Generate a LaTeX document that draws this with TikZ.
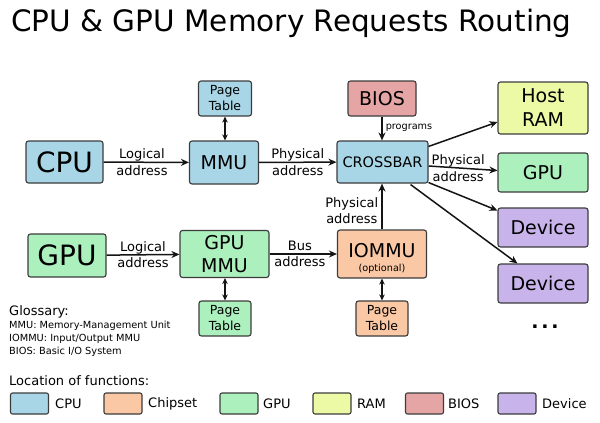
\documentclass[tikz,border=0pt]{standalone}
\usepackage{fontspec}
\setmainfont{DejaVu Sans}
\usetikzlibrary{arrows.meta,calc}
\definecolor{cpuc}{RGB}{168,214,230}
\definecolor{chipc}{RGB}{250,200,165}
\definecolor{gpuc}{RGB}{172,240,190}
\definecolor{ramc}{RGB}{236,250,165}
\definecolor{biosc}{RGB}{230,165,165}
\definecolor{devc}{RGB}{200,180,235}
\definecolor{bordc}{RGB}{60,60,60}
\definecolor{arrc}{RGB}{20,20,20}
\begin{document}
\begin{tikzpicture}[x=1pt,y=-1pt,
  box/.style={draw=bordc, line width=1.1pt, rounded corners=2.5pt, inner sep=0pt, align=center},
  bigf/.style={font=\fontsize{28}{30}\selectfont},
  midf/.style={font=\fontsize{19}{24}\selectfont},
  ptf/.style={font=\fontsize{12.5}{16}\selectfont},
  labf/.style={font=\fontsize{13}{16.5}\selectfont, align=center, inner sep=0pt},
  smallf/.style={font=\fontsize{9.7}{12}\selectfont, inner sep=0pt},
  glf/.style={font=\fontsize{9.8}{12}\selectfont, anchor=west, inner sep=0pt},
  headf/.style={font=\fontsize{13}{16}\selectfont, anchor=west, inner sep=0pt},
  conn/.style={draw=arrc, line width=1.5pt, -{Stealth[length=8pt,width=7pt]}},
  dconn/.style={draw=arrc, line width=1.3pt, {Stealth[length=6pt,width=5.5pt]}-{Stealth[length=6pt,width=5.5pt]}},
  leg/.style={draw=bordc, line width=1.1pt, rounded corners=2pt, minimum width=38, minimum height=21, inner sep=0pt}
]
\useasboundingbox (0,0) rectangle (600,423);
\fill[white] (0,0) rectangle (600,423);

% title
\node[font=\fontsize{29.5}{32}\selectfont, anchor=base west, inner sep=0pt] (title) at (11,31) {CPU \& GPU Memory Requests Routing};

% top row
\node[box, fill=cpuc, minimum width=77, minimum height=42, bigf] (cpu) at (64.5,162) {CPU};
\node[box, fill=cpuc, minimum width=69, minimum height=43, midf] (mmu) at (224,162.5) {MMU};
\node[box, fill=cpuc, minimum width=53, minimum height=35, ptf] (pt1) at (225,98.5) {Page\\Table};
\node[box, fill=cpuc, minimum width=91, minimum height=42, font=\fontsize{14.5}{17}\selectfont] (cross) at (382.5,162) {CROSSBAR};
\node[box, fill=biosc, minimum width=68, minimum height=35, midf] (bios) at (382,98.5) {BIOS};

% right column
\node[box, fill=ramc, minimum width=90, minimum height=52, midf] (hram) at (543,108) {Host\\RAM};
\node[box, fill=gpuc, minimum width=90, minimum height=39, midf] (gpur) at (543,172.5) {GPU};
\node[box, fill=devc, minimum width=90, minimum height=39, midf] (dev1) at (543,227.5) {Device};
\node[box, fill=devc, minimum width=90, minimum height=39, midf] (dev2) at (543,283.5) {Device};
\node[font=\bfseries\fontsize{19}{22}\selectfont, inner sep=0pt, anchor=base] (dots) at (545,328) {.\kern2.8pt.\kern2.8pt.};

% bottom row
\node[box, fill=gpuc, minimum width=78, minimum height=43, bigf] (gpul) at (67,255.5) {GPU};
\node[box, fill=gpuc, minimum width=89, minimum height=47, font=\fontsize{19}{23.5}\selectfont] (gmmu) at (224.5,254) {GPU\\MMU};
\node[box, fill=chipc, minimum width=89, minimum height=48] (iommu) at (382,254) {};
\node[midf, inner sep=0pt] (iommut) at (382,250.5) {IOMMU};
\node[smallf] (opt) at (382,268.5) {(optional)};
\node[box, fill=gpuc, minimum width=52, minimum height=35, ptf] (pt2) at (225,318.5) {Page\\Table};
\node[box, fill=chipc, minimum width=52, minimum height=35, ptf] (pt3) at (382,318.5) {Page\\Table};

% connectors
\draw[conn] (cpu) -- node[labf, pos=0.45] (l1) {Logical\\address} (mmu);
\draw[conn] (mmu) -- node[labf] (l2) {Physical\\address} (cross);
\draw[dconn] (pt1.south) -- (mmu.north -| pt1.south);
\draw[conn] (bios.south) -- (bios.south |- cross.north) node[smallf, pos=0.45, anchor=west, xshift=3pt] (prog) {programs};
\draw[conn] ($(cross.north east)+(0,6)$) -- ($(hram.west)+(0,14)$);
\draw[conn] ($(cross.east)+(0,4)$) -- node[labf, pos=0.43] (l3) {Physical\\address} ($(gpur.west)+(0,-2)$);
\draw[conn] ($(cross.south east)+(0,-1)$) -- ($(dev1.west)+(0,-17)$);
\draw[conn] ($(cross.south east)+(-18,1)$) -- ($(dev2.north west)+(20,0)$);

\draw[conn] (gpul) -- node[labf] (l4) {Logical\\address} (gmmu);
\draw[conn] (gmmu) -- node[labf, pos=0.45] (l5) {Bus\\address} (iommu);
\draw[conn] (iommu.north) -- (iommu.north |- cross.south) node[labf, pos=0.5, anchor=east, xshift=-3pt, yshift=-4pt] (l6) {Physical\\address};
\draw[dconn] (gmmu.south -| pt2.north) -- (pt2.north);
\draw[dconn] (iommu.south) -- (pt3.north);

% glossary
\node[headf] (glos) at (9,312) {Glossary:};
\node[glf] (g1) at (9,326) {MMU: Memory-Management Unit};
\node[glf] (g2) at (9,339) {IOMMU: Input/Output MMU};
\node[glf] (g3) at (9,352) {BIOS: Basic I/O System};

% legend
\node[headf] (loc) at (9,381) {Location of functions:};
\node[leg, fill=cpuc] (k1) at (29.5,403.5) {};
\node[headf] (t1) at (55,403.5) {CPU};
\node[leg, fill=chipc] (k2) at (123,403.5) {};
\node[headf] (t2) at (148,403.5) {Chipset};
\node[leg, fill=gpuc] (k3) at (239,403.5) {};
\node[headf] (t3) at (263,403.5) {GPU};
\node[leg, fill=ramc] (k4) at (332,403.5) {};
\node[headf] (t4) at (357,403.5) {RAM};
\node[leg, fill=biosc] (k5) at (424.5,403.5) {};
\node[headf] (t5) at (448,403.5) {BIOS};
\node[leg, fill=devc] (k6) at (517,403.5) {};
\node[headf] (t6) at (542,403.5) {Device};
\end{tikzpicture}
\end{document}
